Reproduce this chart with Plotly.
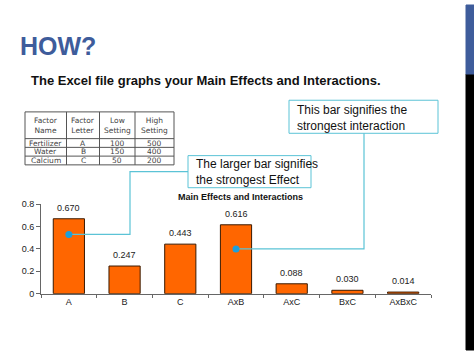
import plotly.graph_objects as go

# ---------------- data ----------------
categories = ["A", "B", "C", "AxB", "AxC", "BxC", "AxBxC"]
effects = [0.670, 0.247, 0.443, 0.616, 0.088, 0.030, 0.014]
y_ticks = [0, 0.2, 0.4, 0.6, 0.8]

table_header = ["Factor<br>Name", "Factor<br>Letter", "Low<br>Setting", "High<br>Setting"]
factor_names = ["Fertilizer", "Water", "Calcium"]
factor_letters = ["A", "B", "C"]
low_settings = [100, 150, 50]
high_settings = [500, 400, 200]

# callout dot positions (category, value)
dot_effect = ("A", 0.53)
dot_interaction = ("AxB", 0.40)

W, H = 474, 355


def px(x):
    return x / W


def py(y):
    return 1 - y / H


FONT = "Arial, 'Liberation Sans', sans-serif"
TFONT = "'DejaVu Sans', Verdana, sans-serif"
TEAL = "#5BC3D6"
DOT = "#1E9FDB"
BLUE = "#3E5C9B"
GRID = "#555555"

fig = go.Figure()

fig.add_trace(go.Bar(
    x=categories, y=effects, width=0.56,
    marker=dict(color="#FF6600", line=dict(color="#3a1a00", width=1)),
    hoverinfo="skip", showlegend=False,
))

annotations = []
shapes = []

# data labels
for c, v in zip(categories, effects):
    annotations.append(dict(x=c, y=v, xref="x", yref="y", text=f"{v:.3f}",
                            showarrow=False, yanchor="bottom", yshift=4,
                            font=dict(family=FONT, size=9, color="#222")))

# ---------------- factor table ----------------
col_edges = [25, 66.5, 99.5, 135, 174]
row_edges = [110, 137.5, 146.5, 155.5, 164.5]
shapes.append(dict(type="rect", xref="paper", yref="paper",
                   x0=px(col_edges[0]), x1=px(col_edges[-1]),
                   y0=py(row_edges[-1]), y1=py(row_edges[0]),
                   fillcolor="white", line=dict(color=GRID, width=1)))
for xe in col_edges[1:-1]:
    shapes.append(dict(type="line", xref="paper", yref="paper", x0=px(xe), x1=px(xe),
                       y0=py(row_edges[-1]), y1=py(row_edges[0]),
                       line=dict(color=GRID, width=1)))
for ye in row_edges[1:-1]:
    shapes.append(dict(type="line", xref="paper", yref="paper", x0=px(col_edges[0]),
                       x1=px(col_edges[-1]), y0=py(ye), y1=py(ye),
                       line=dict(color=GRID, width=1)))
columns = [factor_names, factor_letters, low_settings, high_settings]
for j, head in enumerate(table_header):
    xc = (col_edges[j] + col_edges[j + 1]) / 2
    annotations.append(dict(x=px(xc), y=py((row_edges[0] + row_edges[1]) / 2 + 0.5),
                            xref="paper", yref="paper", text=head, showarrow=False,
                            xanchor="center", yanchor="middle",
                            font=dict(family=TFONT, size=7.5, color="#444")))
    for i, val in enumerate(columns[j]):
        yc = (row_edges[i + 1] + row_edges[i + 2]) / 2
        annotations.append(dict(x=px(xc), y=py(yc), xref="paper", yref="paper",
                                text=str(val), showarrow=False,
                                xanchor="center", yanchor="middle",
                                font=dict(family=TFONT, size=7.5, color="#444")))

annotations += [
    dict(x=px(18), y=py(42.5), xref="paper", yref="paper", text="<b>HOW?</b>",
         showarrow=False, xanchor="left", yanchor="middle",
         font=dict(family=FONT, size=25, color=BLUE)),
    dict(x=px(29), y=py(78), xref="paper", yref="paper",
         text="<b>The Excel file graphs your Main Effects and Interactions.</b>",
         showarrow=False, xanchor="left", yanchor="middle",
         font=dict(family=FONT, size=13, color="#111")),
    dict(x=px(240), y=py(198), xref="paper", yref="paper",
         text="<b>Main Effects and Interactions</b>",
         showarrow=False, xanchor="center", yanchor="middle",
         font=dict(family=FONT, size=9, color="#111")),
    dict(x=px(295), y=py(116), xref="paper", yref="paper",
         text="This bar signifies the<br>strongest interaction", align="left",
         showarrow=False, xanchor="left", yanchor="middle",
         font=dict(family=FONT, size=12, color="#111")),
    dict(x=px(194), y=py(171.5), xref="paper", yref="paper",
         text="The larger bar signifies<br>the strongest Effect", align="left",
         showarrow=False, xanchor="left", yanchor="middle",
         font=dict(family=FONT, size=12, color="#111")),
]

shapes += [
    # right side strip (dark lower part, blue upper part)
    dict(type="path", xref="paper", yref="paper",
         path=f"M {px(466)} 0 L 1 0 L 1 {py(71)} L {px(466)} {py(71)} Z",
         fillcolor="rgb(0,0,0)", opacity=1, line=dict(color="rgb(0,0,0)", width=1),
         layer="above"),
    dict(type="path", xref="paper", yref="paper",
         path=f"M {px(466)} {py(71)} L 1 {py(71)} L 1 1 L {px(466)} 1 Z",
         fillcolor=BLUE, opacity=1, line=dict(color=BLUE, width=1), layer="above"),
    # callout boxes
    dict(type="rect", xref="paper", yref="paper", x0=px(289), x1=px(438), y0=py(132), y1=py(98),
         fillcolor="white", line=dict(color=TEAL, width=1), layer="below"),
    dict(type="rect", xref="paper", yref="paper", x0=px(188), x1=px(311), y0=py(188), y1=py(155),
         fillcolor="white", line=dict(color=TEAL, width=1), layer="below"),
    # connector lines
    dict(type="path", xref="paper", yref="paper",
         path=f"M {px(71)} {py(236)} L {px(130)} {py(236)} L {px(130)} {py(171.5)} L {px(188)} {py(171.5)}",
         line=dict(color=TEAL, width=1.2), layer="above"),
    dict(type="path", xref="paper", yref="paper",
         path=f"M {px(237)} {py(251)} L {px(364)} {py(251)} L {px(364)} {py(132)}",
         line=dict(color=TEAL, width=1.2), layer="above"),
]
for c, v in (dot_effect, dot_interaction):
    shapes.append(dict(type="circle", xref="x", yref="y", xsizemode="pixel", ysizemode="pixel",
                       xanchor=c, yanchor=v, x0=-3.5, x1=3.5, y0=-3.5, y1=3.5,
                       fillcolor=DOT, line=dict(width=0), layer="above"))

fig.update_layout(
    width=W, height=H, autosize=False,
    margin=dict(l=0, r=0, t=0, b=0),
    paper_bgcolor="white", plot_bgcolor="white",
    font=dict(family=FONT),
    annotations=annotations, shapes=shapes,
    xaxis=dict(domain=[px(41), px(431)], type="category", range=[-0.5, 6.5],
               showline=True, linecolor="#666", linewidth=1,
               ticks="outside", tickson="boundaries", ticklen=3, tickcolor="#666",
               showgrid=False, zeroline=False, fixedrange=True,
               tickfont=dict(family=FONT, size=9, color="#222")),
    yaxis=dict(domain=[py(297), py(205)], range=[0, 0.8], tickvals=y_ticks,
               ticktext=[f"{t:g}" for t in y_ticks],
               showline=True, linecolor="#666", linewidth=1,
               ticks="outside", ticklen=4, tickcolor="#666",
               showgrid=False, zeroline=False, fixedrange=True,
               tickfont=dict(family=FONT, size=9, color="#222")),
)

fig.write_html("out.html", config={"displayModeBar": False},
               post_script="document.body.style.margin='0';"
                           "document.documentElement.style.overflow='hidden';"
                           "document.body.style.overflow='hidden';")
